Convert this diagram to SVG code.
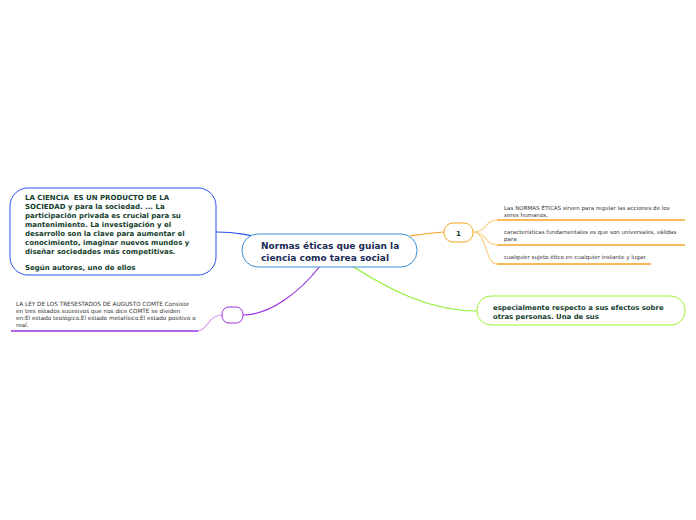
<svg xmlns="http://www.w3.org/2000/svg" width="696" height="520" viewBox="0 0 696 520">
<style>
.b{font-family:"DejaVu Sans",Verdana,sans-serif;font-weight:bold;fill:#133d2c}
.s{font-family:"DejaVu Sans",Verdana,sans-serif;fill:#333;font-size:5.55px}
.c{fill:none;stroke-width:1.2}
</style>
<rect width="696" height="520" fill="#fff"/>
<g id="connectors">
<path class="c" d="M216,232 C236,232 240,234 254,236" stroke="#2a50f0"/>
<path class="c" d="M410,236 C425,234 432,233 444,232" stroke="#f5a623"/>
<path class="c" d="M473,232 C487,232 485,220 497,220" stroke="#fbd08a"/>
<path class="c" d="M473,232 C487,232 485,245 497,245" stroke="#fbd08a"/>
<path class="c" d="M473,232 C487,232 485,264 497,264" stroke="#fbd08a"/>
<path d="M497,220 H685 M497,245 H685 M497,264 H651" stroke="#f5a623" stroke-width="1.3" fill="none"/>
<path class="c" d="M320,266 C300,292 270,315 243,315" stroke="#9b30e0"/>
<path class="c" d="M222,315 C208,315 208,331 197,331" stroke="#d7a5f5"/>
<path d="M11,331 H198" stroke="#9b30e0" stroke-width="1.3" fill="none"/>
<path class="c" d="M352,266 C390,290 430,311 477,311" stroke="#8ef030"/>
</g>
<g id="central">
<rect x="242" y="234" width="175" height="33" rx="16" fill="#fff" stroke="#3b8fd6" stroke-width="1"/>
<text class="b" x="261" y="249" font-size="9" style="fill:#1a2b55">Normas éticas que guian la</text>
<text class="b" x="261" y="261" font-size="9" style="fill:#1a2b55">ciencia como tarea social</text>
</g>
<g id="left">
<rect x="10" y="188" width="206" height="87" rx="18" fill="#fff" stroke="#2a50f0" stroke-width="1"/>
<text class="b" font-size="7">
<tspan x="25" y="200" style="white-space:pre">LA CIENCIA  ES UN PRODUCTO DE LA</tspan>
<tspan x="25" y="209">SOCIEDAD y para la sociedad. ... La</tspan>
<tspan x="25" y="218">participación privada es crucial para su</tspan>
<tspan x="25" y="227">mantenimiento. La investigación y el</tspan>
<tspan x="25" y="236">desarrollo son la clave para aumentar el</tspan>
<tspan x="25" y="245">conocimiento, imaginar nuevos mundos y</tspan>
<tspan x="25" y="254">diseñar sociedades más competitivas.</tspan>
<tspan x="25" y="270">Según autores, uno de ellos</tspan>
</text>
</g>
<g id="node1">
<rect x="444" y="223" width="29" height="19" rx="9" fill="#fff" stroke="#f5a623" stroke-width="1"/>
<text class="b" x="458.5" y="235.5" font-size="7" text-anchor="middle">1</text>
</g>
<g id="orange-texts">
<text class="s"><tspan x="504" y="210">Las NORMAS ÉTICAS sirven para regular las acciones de los</tspan><tspan x="504" y="217">seres humanos,</tspan></text>
<text class="s"><tspan x="504" y="234">características fundamentales es que son universales, válidas</tspan><tspan x="504" y="241">para</tspan></text>
<text class="s"><tspan x="504" y="259">cualquier sujeto ético en cualquier instante y lugar.</tspan></text>
</g>
<g id="purple">
<rect x="222" y="307" width="21" height="16" rx="7" fill="#fff" stroke="#9b30e0" stroke-width="1"/>
<text class="s" style="font-size:5.7px"><tspan x="16" y="306">LA LEY DE LOS TRESESTADOS DE AUGUSTO COMTE.Consiste</tspan><tspan x="16" y="313">en tres estados sucesivos que nos dice COMTE se dividen</tspan><tspan x="16" y="320">en:El estado teológico.El estado metafísico.El estado positivo o</tspan><tspan x="16" y="327">real.</tspan></text>
</g>
<g id="green">
<rect x="477" y="296" width="208" height="29" rx="14" fill="#fff" stroke="#9ef23a" stroke-width="1"/>
<text class="b" font-size="6.9"><tspan x="493" y="310">especialmente respecto a sus efectos sobre</tspan><tspan x="493" y="319">otras personas. Una de sus</tspan></text>
</g>
</svg>
